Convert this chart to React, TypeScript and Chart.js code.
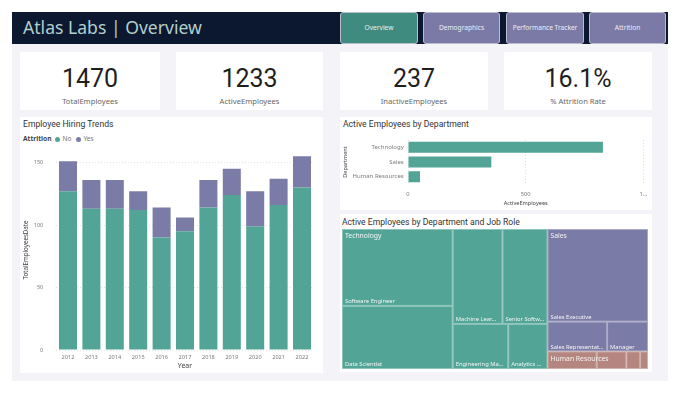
import React, { useEffect, useRef } from 'react';
import { Chart, registerables } from 'chart.js';
Chart.register(...registerables);

// ---------- DATA ----------
const years = ['2012', '2013', '2014', '2015', '2016', '2017', '2018', '2019', '2020', '2021', '2022'];
const activeByYear = [127, 113, 113, 112, 90, 95, 114, 124, 99, 116, 130];
const inactiveByYear = [24, 23, 23, 15, 24, 11, 22, 21, 28, 21, 25];
const hiringTicks = [0, 50, 100, 150];

const departments = ['Technology', 'Sales', 'Human Resources'];
const activeByDept = [828, 354, 51];
const deptTicks = [0, 500, 1000];
const deptTickLabels = ['0', '500', '1…'];

const techRoles = ['Software Engineer', 'Data Scientist', 'Machine Learning Engineer', 'Senior Software Engineer', 'Engineering Manager', 'Analytics Manager'];
const techValues = [245, 201, 136, 123, 72, 51];
const salesRoles = ['Sales Executive', 'Sales Representative', 'Manager'];
const salesValues = [268, 51, 35];
const hrRoles = ['HR Executive', 'HR Business Partner', 'Recruiter', 'HR Manager'];
const hrValues = [25, 15, 7, 4];

const navButtons = ['Overview', 'Demographics', 'Performance Tracker', 'Attrition'];

// ---------- STYLE ----------
const TEAL = '#52a596';
const PURPLE = '#7b7ba7';
const ROSE = '#b5867f';
const NAVY = '#0b1830';
const UI = '"Noto Sans", "Open Sans", sans-serif';
const DIN = 'Roboto, "Noto Sans", sans-serif';
const TICK = '#7a7a7a';

const sum = (a: number[]) => a.reduce((s, v) => s + v, 0);

type R = { x0: number; y0: number; x1: number; y1: number };
function squarify(values: number[], r: R): R[] {
  const ratio = (1 + Math.sqrt(5)) / 2;
  const out: R[] = new Array(values.length);
  let { x0, y0, x1, y1 } = r;
  let value = sum(values);
  let i0 = 0, i1 = 0;
  const n = values.length;
  while (i0 < n) {
    const dx = x1 - x0, dy = y1 - y0;
    let sumValue = values[i1++];
    let minValue = sumValue, maxValue = sumValue;
    const alpha = Math.max(dy / dx, dx / dy) / (value * ratio);
    let beta = sumValue * sumValue * alpha;
    let minRatio = Math.max(maxValue / beta, beta / minValue);
    for (; i1 < n; ++i1) {
      const nv = values[i1];
      sumValue += nv;
      if (nv < minValue) minValue = nv;
      if (nv > maxValue) maxValue = nv;
      beta = sumValue * sumValue * alpha;
      const newRatio = Math.max(maxValue / beta, beta / minValue);
      if (newRatio > minRatio) { sumValue -= nv; break; }
      minRatio = newRatio;
    }
    if (dx < dy) {
      const ny = i1 >= n ? y1 : y0 + dy * sumValue / value;
      let x = x0;
      for (let i = i0; i < i1; i++) {
        const w = (x1 - x0) * values[i] / sumValue;
        out[i] = { x0: x, y0, x1: x + w, y1: ny };
        x += w;
      }
      y0 = ny;
    } else {
      const nx = i1 >= n ? x1 : x0 + dx * sumValue / value;
      let y = y0;
      for (let i = i0; i < i1; i++) {
        const h = (y1 - y0) * values[i] / sumValue;
        out[i] = { x0, y0: y, x1: nx, y1: y + h };
        y += h;
      }
      x0 = nx;
    }
    value -= sumValue;
    i0 = i1;
  }
  return out;
}

function fitText(ctx: CanvasRenderingContext2D, text: string, maxW: number) {
  if (ctx.measureText(text).width <= maxW) return text;
  let t = text;
  while (t.length > 1 && ctx.measureText(t + '…').width > maxW) t = t.slice(0, -1);
  return t + '…';
}

const treemapPlugin = {
  id: 'treemapCells',
  afterDatasetsDraw(chart: any) {
    const ctx: CanvasRenderingContext2D = chart.ctx;
    const xs = chart.scales.x, ys = chart.scales.y;
    const full: R = { x0: xs.getPixelForValue(0), x1: xs.getPixelForValue(100), y0: ys.getPixelForValue(0), y1: ys.getPixelForValue(100) };
    const groups = [
      { name: 'Technology', roles: techRoles, values: techValues, color: TEAL },
      { name: 'Sales', roles: salesRoles, values: salesValues, color: PURPLE },
      { name: 'Human Resources', roles: hrRoles, values: hrValues, color: ROSE },
    ];
    const groupRects = squarify(groups.map(g => sum(g.values)), full);
    ctx.save();
    groups.forEach((g, gi) => {
      const gr = groupRects[gi];
      const cells = squarify(g.values, gr);
      cells.forEach((c, ci) => {
        ctx.fillStyle = g.color;
        ctx.fillRect(c.x0, c.y0, c.x1 - c.x0, c.y1 - c.y0);
        ctx.strokeStyle = 'rgba(255,255,255,0.35)';
        ctx.lineWidth = 1;
        ctx.strokeRect(c.x0 + 0.5, c.y0 + 0.5, c.x1 - c.x0 - 1, c.y1 - c.y0 - 1);
        if (c.y1 - c.y0 > 24) {
          ctx.font = `5.8px ${UI}`;
          ctx.fillStyle = '#f5f5f5';
          ctx.textBaseline = 'middle';
          ctx.textAlign = 'left';
          ctx.fillText(fitText(ctx, g.roles[ci], c.x1 - c.x0 - 6), c.x0 + 3, c.y1 - 4.5);
        }
      });
      ctx.font = `6.8px ${UI}`;
      ctx.fillStyle = '#f5f5f5';
      ctx.textBaseline = 'middle';
      ctx.textAlign = 'left';
      ctx.fillText(fitText(ctx, g.name, gr.x1 - gr.x0 - 6), gr.x0 + 3, gr.y0 + 7.5);
    });
    ctx.restore();
  },
};

const noPad = (s: any) => { s.paddingTop = 0; s.paddingBottom = 0; s.paddingLeft = 0; s.paddingRight = 0; };

function HiringChart() {
  const ref = useRef<HTMLCanvasElement>(null);
  useEffect(() => {
    const chart = new Chart(ref.current!, {
      type: 'bar',
      data: {
        labels: years,
        datasets: [
          { label: 'No', data: activeByYear, backgroundColor: TEAL, barPercentage: 0.77, categoryPercentage: 1, stack: 's' },
          { label: 'Yes', data: inactiveByYear, backgroundColor: PURPLE, barPercentage: 0.77, categoryPercentage: 1, stack: 's' },
        ],
      },
      options: {
        animation: false,
        responsive: false,
        layout: { padding: { top: 10, right: 9.3, left: 0, bottom: 0 } },
        plugins: { legend: { display: false }, tooltip: { enabled: false } },
        scales: {
          x: {
            stacked: true,
            grid: { display: false, drawTicks: false },
            border: { display: false },
            ticks: { font: { family: UI, size: 5.6 }, color: TICK, padding: 4, maxRotation: 0, autoSkip: false },
            title: { display: true, text: 'Year', font: { family: UI, size: 7 }, color: '#444', padding: { top: 0, bottom: 2.5 } },
            afterFit: (s: any) => { s.height = 23; noPad(s); },
          },
          y: {
            stacked: true,
            min: 0,
            max: 160,
            afterBuildTicks: (s: any) => { s.ticks = hiringTicks.map(v => ({ value: v })); },
            grid: { color: 'rgba(0,0,0,0.12)', drawTicks: false },
            border: { display: false, dash: [1, 2] },
            ticks: { font: { family: UI, size: 5.6 }, color: TICK, padding: 13 },
            title: { display: true, text: 'TotalEmployeesDate', font: { family: UI, size: 6.2 }, color: '#444', padding: { top: 3, bottom: 0 } },
            afterFit: (s: any) => { s.width = 36.3; noPad(s); },
          },
        },
      },
    } as any);
    return () => chart.destroy();
  }, []);
  return <canvas ref={ref} width={303} height={233} style={{ position: 'absolute', left: 20, top: 140, width: 303, height: 233 }} />;
}

function DeptChart() {
  const ref = useRef<HTMLCanvasElement>(null);
  useEffect(() => {
    const chart = new Chart(ref.current!, {
      type: 'bar',
      data: {
        labels: departments,
        datasets: [{ label: 'ActiveEmployees', data: activeByDept, backgroundColor: TEAL, barPercentage: 0.75, categoryPercentage: 1 }],
      },
      options: {
        indexAxis: 'y',
        animation: false,
        responsive: false,
        layout: { padding: { top: 7, right: 8.6, left: 0, bottom: 0 } },
        plugins: { legend: { display: false }, tooltip: { enabled: false } },
        scales: {
          x: {
            min: 0,
            max: 1000,
            afterBuildTicks: (s: any) => { s.ticks = deptTicks.map(v => ({ value: v })); },
            grid: { color: 'rgba(0,0,0,0.12)', drawTicks: false },
            border: { display: false, dash: [1, 2] },
            ticks: { font: { family: UI, size: 5.8 }, color: TICK, padding: 7, maxRotation: 0, callback: (v: any) => deptTickLabels[deptTicks.indexOf(Number(v))] },
            title: { display: true, text: 'ActiveEmployees', font: { family: UI, size: 5.6 }, color: '#444', padding: { top: 0, bottom: 3 } },
            afterFit: (s: any) => { s.height = 26; noPad(s); },
          },
          y: {
            grid: { display: false, drawTicks: false },
            border: { display: false },
            ticks: { font: { family: UI, size: 6 }, color: TICK, padding: 4.3 },
            title: { display: true, text: 'Department', font: { family: UI, size: 5.5 }, color: '#444', padding: { top: 2, bottom: 0 } },
            afterFit: (s: any) => { s.width = 68; noPad(s); },
          },
        },
      },
    } as any);
    return () => chart.destroy();
  }, []);
  return <canvas ref={ref} width={312} height={77} style={{ position: 'absolute', left: 340, top: 133, width: 312, height: 77 }} />;
}

function TreemapChart() {
  const ref = useRef<HTMLCanvasElement>(null);
  useEffect(() => {
    const chart = new Chart(ref.current!, {
      type: 'scatter',
      data: { datasets: [] },
      options: {
        animation: false,
        responsive: false,
        layout: { padding: 0 },
        plugins: { legend: { display: false }, tooltip: { enabled: false } },
        scales: {
          x: { type: 'linear', min: 0, max: 100, display: false },
          y: { type: 'linear', min: 0, max: 100, display: false, reverse: true },
        },
      },
      plugins: [treemapPlugin],
    } as any);
    return () => chart.destroy();
  }, []);
  return <canvas ref={ref} width={306} height={140} style={{ position: 'absolute', left: 342, top: 229, width: 306, height: 140 }} />;
}

const box = (left: number, top: number, width: number, height: number, extra: any = {}) => ({
  position: 'absolute' as const, left, top, width, height, boxSizing: 'border-box' as const, ...extra,
});

export default function App() {
  const total = sum(activeByYear) + sum(inactiveByYear);
  const active = sum(activeByYear);
  const inactive = sum(inactiveByYear);
  const kpis = [
    { v: String(total), l: 'TotalEmployees', x: 20, w: 140 },
    { v: String(active), l: 'ActiveEmployees', x: 176, w: 147 },
    { v: String(inactive), l: 'InactiveEmployees', x: 340, w: 148 },
    { v: (inactive / total * 100).toFixed(1) + '%', l: '% Attrition Rate', x: 504, w: 148 },
  ];
  const btns = [
    { x: 340, w: 78, c: '#3f8b7f' },
    { x: 423, w: 77, c: '#7b7aa6' },
    { x: 506, w: 78, c: '#7b7aa6' },
    { x: 589, w: 77, c: '#7b7aa6' },
  ];
  return (
    <div style={box(0, 0, 680, 393, { background: '#ffffff', overflow: 'hidden', fontFamily: UI })}>
      <div style={box(12, 12, 656, 369, { background: '#f3f3f8' })} />
      <div style={box(12, 12, 656, 32, { background: NAVY })} />
      <div style={box(23, 12, 300, 32, { color: '#b2cfcc', fontSize: 17.6, lineHeight: '31px', whiteSpace: 'nowrap' })}>Atlas Labs | Overview</div>
      {navButtons.map((t, i) => (
        <div key={t} style={box(btns[i].x, 12, btns[i].w, 32, {
          background: btns[i].c, border: '1px solid #b9bccb', borderRadius: 3, color: '#eeeef4',
          fontSize: 6.6, lineHeight: '30px', textAlign: 'center', whiteSpace: 'nowrap',
        })}>{t}</div>
      ))}
      {kpis.map(k => (
        <div key={k.l} style={box(k.x, 52, k.w, 58, { background: '#fff' })}>
          <div style={{ position: 'absolute', left: 0, width: '100%', top: 12, textAlign: 'center', fontFamily: DIN, fontSize: 25, lineHeight: '30px', color: '#1f1f1f' }}>{k.v}</div>
          <div style={{ position: 'absolute', left: 0, width: '100%', top: 43, textAlign: 'center', fontSize: 7.6, lineHeight: '12px', color: '#666' }}>{k.l}</div>
        </div>
      ))}
      <div style={box(20, 117, 303, 256, { background: '#fff' })} />
      <div style={box(340, 117, 312, 93, { background: '#fff' })} />
      <div style={box(340, 214, 312, 158, { background: '#fff' })} />
      <div style={box(23, 118, 250, 12, { fontFamily: DIN, fontSize: 8.6, lineHeight: '12px', color: '#333', whiteSpace: 'nowrap' })}>Employee Hiring Trends</div>
      <div style={box(23, 134, 200, 10, { fontSize: 6.6, lineHeight: '10px', color: '#444', whiteSpace: 'nowrap', display: 'flex', alignItems: 'center' })}>
        <span style={{ fontWeight: 700, marginRight: 4 }}>Attrition</span>
        <span style={{ width: 5, height: 5, borderRadius: 3, background: TEAL, display: 'inline-block', marginRight: 2 }} />
        <span style={{ color: '#777', marginRight: 5 }}>No</span>
        <span style={{ width: 5, height: 5, borderRadius: 3, background: PURPLE, display: 'inline-block', marginRight: 2 }} />
        <span style={{ color: '#777' }}>Yes</span>
      </div>
      <div style={box(343, 118, 300, 12, { fontFamily: DIN, fontSize: 8.6, lineHeight: '12px', color: '#333', whiteSpace: 'nowrap' })}>Active Employees by Department</div>
      <div style={box(342, 216, 300, 12, { fontFamily: DIN, fontSize: 8.6, lineHeight: '12px', color: '#333', whiteSpace: 'nowrap' })}>Active Employees by Department and Job Role</div>
      <HiringChart />
      <DeptChart />
      <TreemapChart />
    </div>
  );
}
